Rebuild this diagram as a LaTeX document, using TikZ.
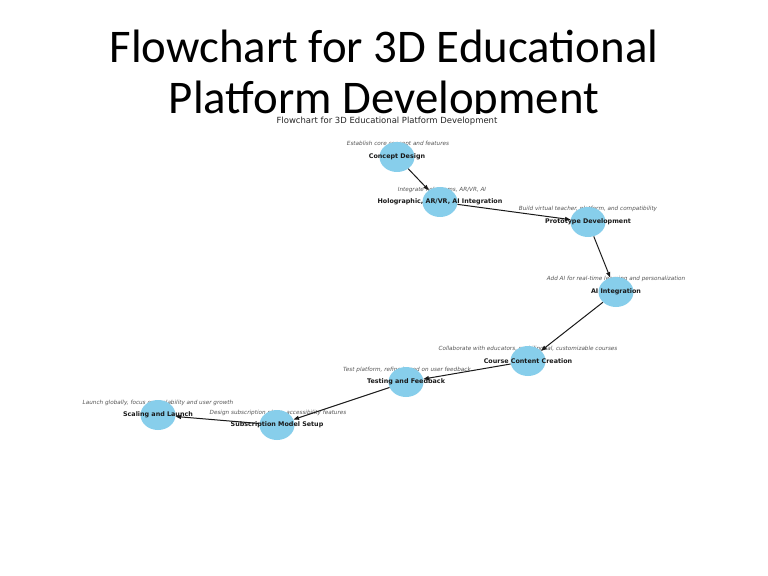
\documentclass[tikz,border=0pt]{standalone}
\usepackage{fontspec}
\setmainfont{Carlito}
\newfontfamily\djv{DejaVu Sans}
\usetikzlibrary{shapes.geometric,arrows.meta}
\definecolor{skyblue}{RGB}{135,206,235}
\definecolor{descgray}{RGB}{85,85,85}
\definecolor{lblblack}{RGB}{25,25,25}
\begin{document}
\begin{tikzpicture}[x=1bp,y=-1bp,
  bubble/.style={ellipse,fill=skyblue,minimum width=35bp,minimum height=30bp,inner sep=0pt},
  lbl/.style={font=\djv\bfseries\fontsize{6.4}{7}\selectfont,text=lblblack,inner sep=0pt},
  desc/.style={font=\djv\itshape\fontsize{5.7}{6.5}\selectfont,text=descgray,inner sep=0pt},
  flow/.style={-{Triangle[length=5.5bp,width=4bp]},line width=1bp,black!90}]
\useasboundingbox (0,0) rectangle (768,576);
\fill[white] (0,0) rectangle (768,576);
% slide title
\node[font=\fontsize{47}{51}\selectfont,align=center,anchor=base,inner sep=0pt] (title) at (384,113.5)
  {Flowchart for 3D Educational\\Platform Development};
% embedded figure area
\fill[white] (78,114) rectangle (688,456);
\node[font=\djv\fontsize{8.5}{10}\selectfont,text=black!85,inner sep=0pt] (ftitle) at (387,121)
  {Flowchart for 3D Educational Platform Development};
% descriptions
\node[desc] (d1) at (398,144) {Establish core concept and features};
\node[desc] (d2) at (442,190) {Integrate holograms, AR/VR, AI};
\node[desc] (d3) at (588,209) {Build virtual teacher, platform, and compatibility};
\node[desc] (d4) at (616,279) {Add AI for real-time learning and personalization};
\node[desc] (d5) at (528,349) {Collaborate with educators, multilingual, customizable courses};
\node[desc] (d6) at (407,370) {Test platform, refine based on user feedback};
\node[desc] (d7) at (278,413) {Design subscription plans, accessibility features};
\node[desc] (d8) at (158,403) {Launch globally, focus on scalability and user growth};
% bubbles
\node[bubble] (c1) at (397,157) {};
\node[bubble] (c2) at (440,202) {};
\node[bubble] (c3) at (588,222) {};
\node[bubble] (c4) at (616,292) {};
\node[bubble] (c5) at (528,361) {};
\node[bubble] (c6) at (406,382) {};
\node[bubble] (c7) at (277,425) {};
\node[bubble] (c8) at (158,415) {};
% edges
\draw[flow] (c1) -- (c2);
\draw[flow] (c2) -- (c3);
\draw[flow] (c3) -- (c4);
\draw[flow] (c4) -- (c5);
\draw[flow] (c5) -- (c6);
\draw[flow] (c6) -- (c7);
\draw[flow] (c7) -- (c8);
% labels
\node[lbl] (l1) at (c1) {Concept Design};
\node[lbl] (l2) at (c2) {Holographic, AR/VR, AI Integration};
\node[lbl] (l3) at (c3) {Prototype Development};
\node[lbl] (l4) at (c4) {AI Integration};
\node[lbl] (l5) at (c5) {Course Content Creation};
\node[lbl] (l6) at (c6) {Testing and Feedback};
\node[lbl] (l7) at (c7) {Subscription Model Setup};
\node[lbl] (l8) at (c8) {Scaling and Launch};
\end{tikzpicture}
\end{document}
